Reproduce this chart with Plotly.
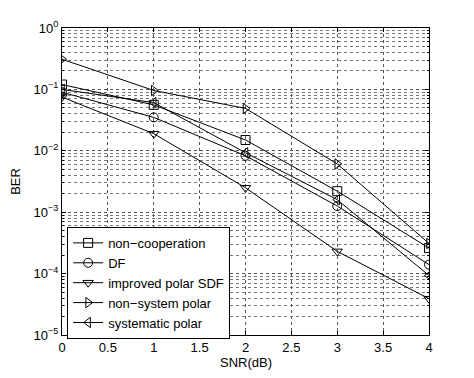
import plotly.graph_objects as go

snr = [0, 1, 2, 3, 4]
non_coop = [0.12, 0.056, 0.015, 0.0022, 0.00026]
df = [0.09, 0.035, 0.0083, 0.00126, 0.00014]
improved_sdf = [0.075, 0.019, 0.0025, 0.00023, 0.000039]
non_system = [0.31, 0.096, 0.049, 0.0061, 0.00031]
systematic = [0.1, 0.061, 0.0093, 0.0016, 0.000093]

names = ["non\u2212cooperation", "DF", "improved polar SDF", "non\u2212system polar", "systematic polar"]
series = [non_coop, df, improved_sdf, non_system, systematic]
symbols = ["square-open", "circle-open", "triangle-down-open", "triangle-right-open", "triangle-left-open"]

ytickvals = [1, 0.1, 0.01, 0.001, 0.0001, 0.00001]
yticktext = ["10<sup>0</sup>", "10<sup>\u22121</sup>", "10<sup>\u22122</sup>", "10<sup>\u22123</sup>", "10<sup>\u22124</sup>", "10<sup>\u22125</sup>"]
yminorvals = [m * d for d in [1e-5, 1e-4, 1e-3, 1e-2, 1e-1] for m in range(2, 10)]
xtickvals = [0, 0.5, 1, 1.5, 2, 2.5, 3, 3.5, 4]
xticktext = ["0", "0.5", "1", "1.5", "2", "2.5", "3", "3.5", "4"]

fig = go.Figure()
for n, s, sym in zip(names, series, symbols):
    fig.add_trace(go.Scatter(x=snr, y=s, name=n, mode="lines+markers",
                             line=dict(color="black", width=1),
                             marker=dict(symbol=sym, size=9, color="black", line=dict(width=1, color="black"))))

font = dict(family="Liberation Sans, Arial, sans-serif", size=13, color="black")
fig.update_layout(
    width=466, height=370,
    margin=dict(l=54, r=45, t=20, b=43),
    paper_bgcolor="white", plot_bgcolor="white",
    font=font,
    showlegend=True,
    legend=dict(x=0.014, y=0.352, xanchor="left", yanchor="top",
                bgcolor="white", bordercolor="black", borderwidth=1,
                font=dict(family="Liberation Sans, Arial, sans-serif", size=13, color="black"),
                tracegroupgap=0, itemwidth=30),
    annotations=[dict(text="SNR(dB)", xref="paper", yref="paper", x=0.5, y=0,
                      xanchor="center", yanchor="middle", yshift=-27, showarrow=False, font=font)],
)
fig.update_xaxes(range=[0, 4], tickvals=xtickvals, ticktext=xticktext, automargin=False,
                 showline=True, linecolor="black", linewidth=1, mirror="ticks",
                 ticks="inside", ticklen=4, tickcolor="black",
                 showgrid=True, gridcolor="#555555", griddash="dot", gridwidth=1,
                 zeroline=False)
fig.update_yaxes(type="log", range=[-5, 0], tickvals=ytickvals, ticktext=yticktext, automargin=False,
                 showline=True, linecolor="black", linewidth=1, mirror="ticks",
                 ticks="inside", ticklen=4, tickcolor="black",
                 showgrid=True, gridcolor="#555555", griddash="dot", gridwidth=1,
                 minor=dict(tickmode="array", tickvals=yminorvals, showgrid=True,
                            gridcolor="#777777", griddash="dot", gridwidth=1,
                            ticks="inside", ticklen=2, tickcolor="black"),
                 zeroline=False,
                 title=dict(text="BER", standoff=11, font=font))
fig.write_html("out.html")
